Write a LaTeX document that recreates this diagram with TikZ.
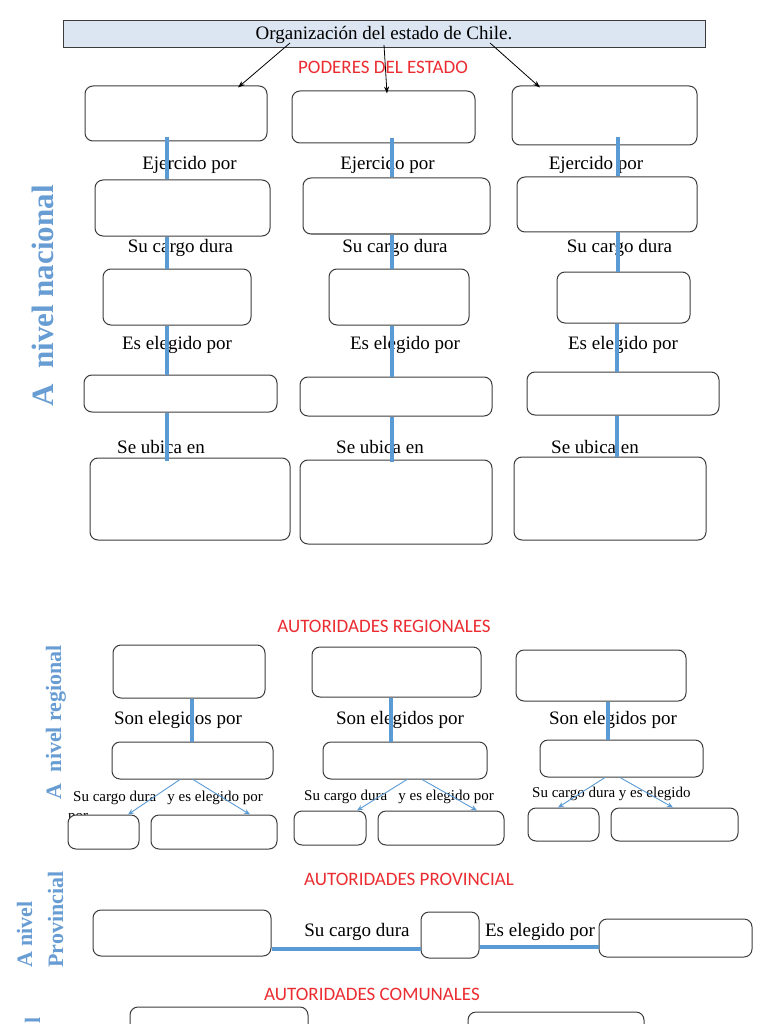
\documentclass[tikz,border=0pt]{standalone}
\usepackage{fontspec}
\setmainfont{Liberation Serif}
\newfontfamily\redfont{Carlito}
\usetikzlibrary{arrows.meta,fit}
\definecolor{boxline}{RGB}{60,60,60}
\definecolor{conblue}{RGB}{91,155,213}
\definecolor{sideblue}{RGB}{104,157,212}
\definecolor{titlefill}{RGB}{220,230,242}
\definecolor{headred}{RGB}{235,45,50}
\begin{document}
\begin{tikzpicture}[x=1pt,y=-1pt,
 box/.style={draw=boxline, line width=1pt, rounded corners=8pt, fill=white, inner sep=0pt},
 lbl/.style={font=\fontsize{19}{22}\selectfont, anchor=base, inner sep=0pt},
 slbl/.style={font=\fontsize{15}{18}\selectfont, anchor=base west, inner sep=0pt},
 head/.style={font=\redfont\fontsize{19}{22}\selectfont, text=headred, inner sep=0pt},
 side/.style={text=sideblue, rotate=90, inner sep=0pt},
 con/.style={draw=conblue, line width=3.5pt},
 thinarr/.style={draw=conblue, line width=0.9pt, -{Stealth[length=6pt,width=5pt]}},
 blkarr/.style={draw=black, line width=0.8pt, -{Stealth[length=7pt,width=5pt]}}]
\useasboundingbox[fill=white] (0,0) rectangle (768,1024);

% ---------- title ----------
\node[draw=boxline, line width=1pt, fill=titlefill, minimum width=642pt, minimum height=27pt, inner sep=0pt,
      font=\fontsize{19}{22}\selectfont] (title) at (384,34.5) {Organización del estado de Chile.};
\node[head] (hpod) at (383,67) {PODERES DEL ESTADO};

% ---------- side labels ----------
\node[side, anchor=base, font=\bfseries\fontsize{31}{36}\selectfont] (snac) at (53,296) {A~~nivel nacional};
\node[side, anchor=base, font=\bfseries\fontsize{22}{26}\selectfont] (sreg) at (61,722) {A~~nivel regional};
\node[side, anchor=base west, font=\bfseries\fontsize{22}{26}\selectfont] (sprov1) at (32,968) {A nivel};
\node[side, anchor=base west, font=\bfseries\fontsize{22}{26}\selectfont] (sprov2) at (63,968) {Provincial};
\node[side, anchor=base west, font=\bfseries\fontsize{22}{26}\selectfont] (scom) at (40,1024) {l};

% ---------- nacional boxes ----------
\node[box, fit={(85,86) (267,141)}] (a1) {};
\node[box, fit={(292,91) (475,143)}] (b1) {};
\node[box, fit={(512,86) (697,145)}] (c1) {};
\node[box, fit={(95,180) (270,236)}] (a2) {};
\node[box, fit={(303,178) (490,234)}] (b2) {};
\node[box, fit={(517,177) (697,232)}] (c2) {};
\node[box, fit={(103,269) (251,325)}] (a3) {};
\node[box, fit={(329,269) (469,325)}] (b3) {};
\node[box, fit={(557,272) (690,323)}] (c3) {};
\node[box, fit={(84,375) (277,412)}] (a4) {};
\node[box, fit={(300,377) (492,416)}] (b4) {};
\node[box, fit={(527,372) (719,415)}] (c4) {};
\node[box, fit={(90,458) (290,540)}] (a5) {};
\node[box, fit={(300,460) (492,544)}] (b5) {};
\node[box, fit={(514,457) (706,540)}] (c5) {};

% title arrows
\coordinate (ts1) at (290,43);
\coordinate (ts2) at (384,45);
\coordinate (ts3) at (490,43);
\coordinate (te1) at (238,0);
\coordinate (te2) at (387,0);
\coordinate (te3) at (540,0);
\draw[blkarr] (ts1) -- ([yshift=-2pt]a1.north -| te1);
\draw[blkarr] (ts2) -- ([yshift=-3pt]b1.north -| te2);
\draw[blkarr] (ts3) -- ([yshift=-2pt]c1.north -| te3);

% labels nacional
\node[lbl] (l1a) at (189.5,170) {Ejercido por};
\node[lbl] (l1b) at (387.5,170) {Ejercido por};
\node[lbl] (l1c) at (596,170) {Ejercido por};
\node[lbl] (l2a) at (180.5,252.5) {Su cargo dura};
\node[lbl] (l2b) at (395,252.5) {Su cargo dura};
\node[lbl] (l2c) at (619.5,252.5) {Su cargo dura};
\node[lbl] (l3a) at (177,349) {Es elegido por};
\node[lbl] (l3b) at (405,349) {Es elegido por};
\node[lbl] (l3c) at (623,349) {Es elegido por};
\node[lbl] (l4a) at (161,453) {Se ubica en};
\node[lbl] (l4b) at (380,453) {Se ubica en};
\node[lbl] (l4c) at (595,453) {Se ubica en};

% blue connectors nacional
\coordinate (xa) at (167,0);
\coordinate (xb) at (392,0);
\coordinate (xc) at (618,0);
\coordinate (xc2) at (617,0);
\draw[con] ([yshift=4pt]a1.south -| xa) -- (a2.north -| xa);
\draw[con] ([yshift=5pt]b1.south -| xb) -- (b2.north -| xb);
\draw[con] ([yshift=8pt]c1.south -| xc) -- (c2.north -| xc);
\draw[con] (a2.south -| xa) -- (a3.north -| xa);
\draw[con] (b2.south -| xb) -- (b3.north -| xb);
\draw[con] (c2.south -| xc) -- (c3.north -| xc);
\draw[con] (a3.south -| xa) -- (a4.north -| xa);
\draw[con] (b3.south -| xb) -- (b4.north -| xb);
\draw[con] (c3.south -| xc2) -- (c4.north -| xc2);
\draw[con] (a4.south -| xa) -- ([yshift=-3pt]a5.north -| xa);
\draw[con] (b4.south -| xb) -- ([yshift=-2pt]b5.north -| xb);
\draw[con] (c4.south -| xc2) -- (c5.north -| xc2);

% ---------- regional ----------
\node[head] (hreg) at (384,626) {AUTORIDADES REGIONALES};
\node[box, fit={(113,645) (265,698)}] (r1a) {};
\node[box, fit={(312,647) (481,697)}] (r1b) {};
\node[box, fit={(516,650) (686,701)}] (r1c) {};
\node[box, fit={(112,742) (273,779)}] (r2a) {};
\node[box, fit={(323,742) (487,779)}] (r2b) {};
\node[box, fit={(540,740) (703,777)}] (r2c) {};

\node[lbl] (lra) at (178,724) {Son elegidos por};
\node[lbl] (lrb) at (400,724) {Son elegidos por};
\node[lbl] (lrc) at (613,724) {Son elegidos por};

\node[slbl] (sa) at (73,801) {Su cargo dura\ \ \ y es elegido por};
\node[slbl] (sb) at (304,800) {Su cargo dura\ \ \ y es elegido por};
\node[slbl] (sc) at (532,797) {Su cargo dura y es elegido};
\node[slbl] (spor) at (68,820) {por};

\node[box, fit={(68,815) (139,849)}] (r3a1) {};
\node[box, fit={(151,815) (277,849)}] (r3a2) {};
\node[box, fit={(294,811) (366,845)}] (r3b1) {};
\node[box, fit={(378,811) (504,845)}] (r3b2) {};
\node[box, fit={(528,808) (599,841)}] (r3c1) {};
\node[box, fit={(611,808) (738,841)}] (r3c2) {};

\coordinate (ra) at (192,0);
\coordinate (rb) at (391,0);
\coordinate (rc) at (608,0);
\draw[con] (r1a.south -| ra) -- (r2a.north -| ra);
\draw[con] (r1b.south -| rb) -- (r2b.north -| rb);
\draw[con] (r1c.south -| rc) -- (r2c.north -| rc);

\coordinate (pa1) at (180,0);  \coordinate (qa1) at (128,0);
\coordinate (pa2) at (193,0);  \coordinate (qa2) at (250,0);
\coordinate (pb1) at (407,0);  \coordinate (qb1) at (357,0);
\coordinate (pb2) at (422,0);  \coordinate (qb2) at (477,0);
\coordinate (pc1) at (605,0);  \coordinate (qc1) at (558,0);
\coordinate (pc2) at (620,0);  \coordinate (qc2) at (673,0);
\draw[thinarr] (r2a.south -| pa1) -- (r3a1.north -| qa1);
\draw[thinarr] (r2a.south -| pa2) -- (r3a2.north -| qa2);
\draw[thinarr] (r2b.south -| pb1) -- (r3b1.north -| qb1);
\draw[thinarr] (r2b.south -| pb2) -- (r3b2.north -| qb2);
\draw[thinarr] (r2c.south -| pc1) -- (r3c1.north -| qc1);
\draw[thinarr] (r2c.south -| pc2) -- (r3c2.north -| qc2);

% ---------- provincial ----------
\node[head] (hprov) at (409,879) {AUTORIDADES PROVINCIAL};
\node[box, fit={(93,910) (271,956)}] (pL) {};
\node[box, fit={(421,912) (479,958)}] (pM) {};
\node[box, fit={(599,919) (752,957)}] (pR) {};
\node[lbl] (lp1) at (357,936) {Su cargo dura};
\node[lbl] (lp2) at (540,936) {Es elegido por};
\coordinate (py1) at (0,949);
\coordinate (py2) at (0,947);
\draw[con] (pL.east |- py1) -- (pM.west |- py1);
\draw[con] (pM.east |- py2) -- (pR.west |- py2);

% ---------- comunal ----------
\node[head] (hcom) at (372,994) {AUTORIDADES COMUNALES};
\node[box, fit={(130,1007) (308,1045)}] (cL) {};
\node[box, fit={(468,1012) (644,1045)}] (cR) {};
\end{tikzpicture}
\end{document}
